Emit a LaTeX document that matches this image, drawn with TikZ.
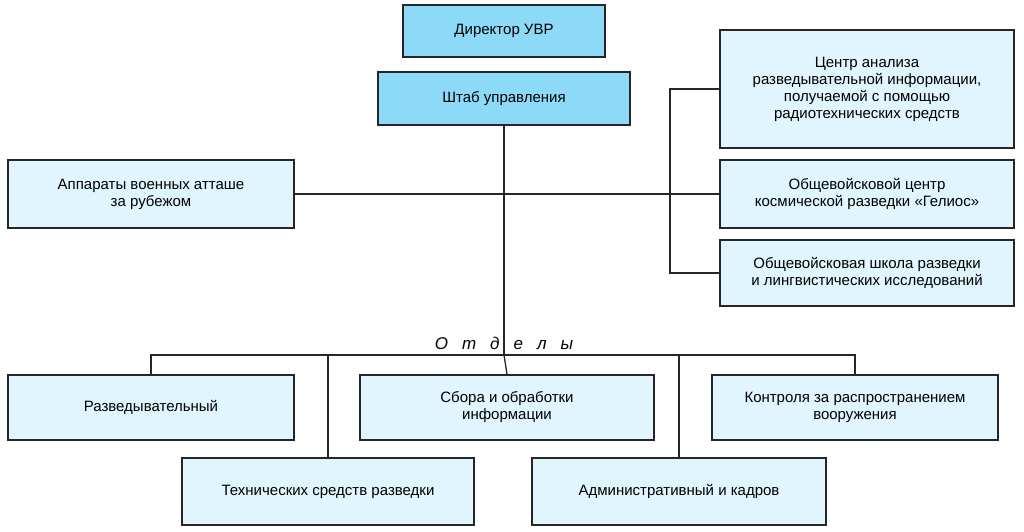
\documentclass[tikz,border=0pt]{standalone}
\usepackage{fontspec}
\setmainfont{Liberation Sans}
\begin{document}
\begin{tikzpicture}[x=1pt,y=-1pt,
 bx/.style={draw=black!85,line width=1.2pt,fill=cyan!12!white,align=center,font=\fontsize{15}{17}\selectfont,inner sep=0pt},
 dk/.style={bx,fill=cyan!45!white},
 ln/.style={line width=1.3pt,black!85}]
\useasboundingbox (0,0) rectangle (1024,532);
\def\B#1#2#3#4#5#6{\node[#6,minimum width=#3-#1,minimum height=#4-#2] (#5) at ({(#1+#3)/2},{(#2+#4)/2}) {};}
\node[dk,minimum width=202,minimum height=52] (dir) at (504,31) {Директор УВР};
\node[dk,minimum width=252,minimum height=53] (sht) at (504,98.5) {Штаб управления};
\node[bx,minimum width=294,minimum height=118] (can) at (867,89) {Центр анализа\\разведывательной информации,\\получаемой с помощью\\радиотехнических средств};
\node[bx,minimum width=294,minimum height=68] (gel) at (867,194) {Общевойсковой центр\\космической разведки «Гелиос»};
\node[bx,minimum width=294,minimum height=66] (sch) at (867,273) {Общевойсковая школа разведки\\и лингвистических исследований};
\node[bx,minimum width=286,minimum height=68] (att) at (151,194) {Аппараты военных атташе\\за рубежом};
\node[bx,minimum width=286,minimum height=65] (rz) at (151,407.5) {Разведывательный};
\node[bx,minimum width=294,minimum height=65] (sb) at (507,407.5) {Сбора и обработки\\информации};
\node[bx,minimum width=286,minimum height=65] (kn) at (855,407.5) {Контроля за распространением\\вооружения};
\node[bx,minimum width=292,minimum height=67] (tx) at (328,491.5) {Технических средств разведки};
\node[bx,minimum width=294,minimum height=67] (ad) at (679,491.5) {Административный и кадров};
\coordinate (j) at (504,355);
\coordinate (br) at (670,194);
\node[font=\itshape\fontsize{17}{19}\selectfont] (otd) at (504,343) {О\hspace{14pt}т\hspace{14pt}д\hspace{14pt}е\hspace{14pt}л\hspace{14pt}ы};
\draw[ln] (sht.south) -- (j);
\draw[ln] (att.east) -- (gel.west);
\draw[ln] (can.west) -| (br) |- (sch.west);
\draw[ln] (rz.north) -- (rz.north|-j) -- (kn.north|-j) -- (kn.north);
\draw[ln] (tx.north) -- (tx.north|-j);
\draw[ln] (ad.north) -- (ad.north|-j);
\draw[ln] (j) -- (sb.north);
\end{tikzpicture}
\end{document}
